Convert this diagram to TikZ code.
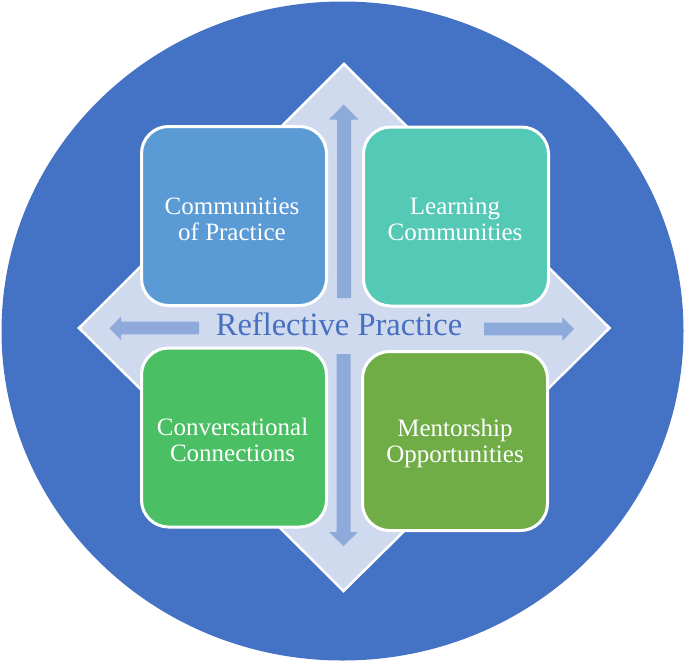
\documentclass[tikz,border=0pt]{standalone}
\usepackage{fontspec}
\setmainfont{Liberation Serif}
\definecolor{circblue}{HTML}{4472C4}
\definecolor{diafill}{HTML}{D0DAEE}
\definecolor{arrowblue}{HTML}{8EAADB}
\definecolor{titleblue}{HTML}{4670C2}
\definecolor{boxA}{HTML}{5B9BD5}
\definecolor{boxB}{HTML}{53C9B6}
\definecolor{boxC}{HTML}{4ABF63}
\definecolor{boxD}{HTML}{70AD47}
\tikzset{
  quadbox/.style={draw=white, line width=3pt, rounded corners=27pt,
    minimum width=185pt, minimum height=179pt, inner sep=0pt},
  boxtext/.style={text=white, align=center, inner sep=0pt,
    font=\fontsize{25}{26}\selectfont},
  blockarrow/.style={fill=arrowblue, draw=none},
  titletext/.style={text=titleblue, inner sep=0pt, anchor=base,
    font=\fontsize{32.5}{34}\selectfont}
}
\begin{document}
\begin{tikzpicture}[x=1pt,y=-1pt]
\useasboundingbox (0,0) rectangle (685,662);
% background circle
\fill[circblue] (342.5,331) ellipse [x radius=341, y radius=329.5];
% diamond
\coordinate (dt) at (344,64);
\coordinate (dr) at (609.5,328);
\coordinate (db) at (343.5,591);
\coordinate (dl) at (79,328);
\filldraw[fill=diafill, draw=white, line width=2.5pt, line join=miter] (dt) -- (dr) -- (db) -- (dl) -- cycle;
% block arrows
\fill[blockarrow] (337,298) -- (337,119.5) -- (329,119.5) -- (343.7,104.5) -- (358.5,119.5) -- (351,119.5) -- (351,298) -- cycle;
\fill[blockarrow] (336.5,354) -- (336.5,532) -- (329,532) -- (343.5,546) -- (358,532) -- (350.5,532) -- (350.5,354) -- cycle;
\fill[blockarrow] (199,321.7) -- (121,321.7) -- (121,316.7) -- (109.5,328.3) -- (121,340) -- (121,334.3) -- (199,334.3) -- cycle;
\fill[blockarrow] (484,322.7) -- (562.3,322.7) -- (562.3,317) -- (574,329) -- (562.3,341) -- (562.3,335.3) -- (484,335.3) -- cycle;
% boxes
\node[quadbox, fill=boxA] (cop) at (234,216) {};
\node[quadbox, fill=boxB] (lc) at (456,216.5) {};
\node[quadbox, fill=boxC] (cc) at (234,437.5) {};
\node[quadbox, fill=boxD] (mo) at (455,441) {};
\node[boxtext] (copt) at (232,219) {Communities\\of Practice};
\node[boxtext] (lct) at (455,219.5) {Learning\\Communities};
\node[boxtext] (cct) at (232.5,440) {Conversational\\Connections};
\node[boxtext] (mot) at (455,443.5) {Mentorship\\Opportunities};
% title
\node[titletext] (title) at (339,335) {Reflective Practice};
\end{tikzpicture}
\end{document}
